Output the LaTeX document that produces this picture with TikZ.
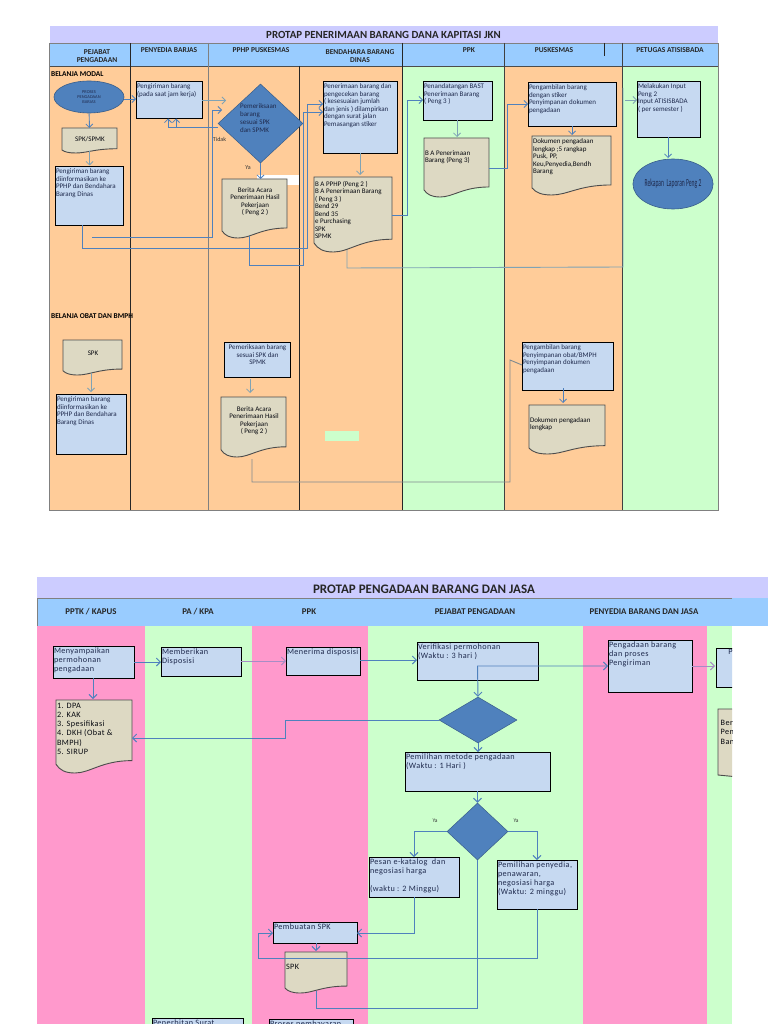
\documentclass[tikz,border=0pt]{standalone}
\usepackage{fontspec}
\usepackage{graphicx}
\setmainfont{Carlito}
\usetikzlibrary{arrows.meta,shapes.geometric}
\definecolor{orng}{HTML}{FFCC99}
\definecolor{grn}{HTML}{CCFFCC}
\definecolor{pnk}{HTML}{FF99CC}
\definecolor{hdrblue}{HTML}{99CCFF}
\definecolor{titleb}{HTML}{CCCCFF}
\definecolor{boxb}{HTML}{C6D9F1}
\definecolor{docb}{HTML}{DDD9C3}
\definecolor{dkblue}{HTML}{4F81BD}
\definecolor{dkline}{HTML}{385D8A}
\definecolor{inkc}{HTML}{1F2A4D}
\definecolor{lnk}{HTML}{4F81BD}
\definecolor{lnklt}{HTML}{7FA3B5}
\definecolor{grayl}{HTML}{808080}
\tikzset{
 flowb/.style={draw=black,line width=0.9pt,fill=boxb,text=inkc,font=\fontsize{7}{7.5}\selectfont\def\tbpad{2.5pt}},
 flowc/.style={draw=black,line width=0.9pt,fill=boxb,text=inkc,font=\fontsize{8.2}{9.3}\selectfont\addfontfeature{LetterSpace=5}\def\tbpad{0.5pt}},
 docb/.style={text=black!80!inkc,font=\fontsize{7}{7.5}\selectfont\def\tbpad{2.5pt}},
 docc/.style={text=black!80!inkc,font=\fontsize{8.2}{9.3}\selectfont\addfontfeature{LetterSpace=5}\def\tbpad{1.5pt}},
 docshape/.style={draw=black!70,line width=0.9pt,fill=docb},
 hdr/.style={font=\fontsize{7.5}{8}\bfseries\selectfont,text=black!85,align=center,inner sep=0pt},
 hdrb/.style={font=\fontsize{8.8}{10}\bfseries\selectfont,text=black!85,align=center,inner sep=0pt},
 sect/.style={font=\fontsize{7.4}{8}\bfseries\selectfont,text=black,anchor=west,inner sep=0pt},
 ttl/.style={font=\bfseries\selectfont,text=black!85,inner sep=0pt},
 small/.style={font=\fontsize{6}{7}\selectfont,text=black!80,inner sep=0pt},
 conn/.style={draw=lnk,line width=0.95pt,-{Straight Barb[length=3.5pt,width=7pt,line width=0.8pt]}},
 connlt/.style={conn,draw=lnklt},
 connp/.style={draw=lnk,line width=0.95pt,-{Straight Barb[length=4pt,width=8pt,line width=0.9pt]}},
 dia/.style={shape=diamond,draw=dkline,line width=0.5pt,fill=dkblue,inner sep=0pt},
 ell/.style={shape=ellipse,draw=dkline,line width=0.6pt,fill=dkblue,inner sep=0pt,text=inkc},
}
% #1 align, #2 style, #3 name, #4 x1, #5 y1, #6 x2, #7 y2, #8 text
\newcommand{\tbox}[8][l]{%
 \pgfmathsetmacro\bxw{#6-#4}\pgfmathsetmacro\bxh{#7-#5}%
 \pgfmathsetmacro\bxcx{(#4+#6)/2}\pgfmathsetmacro\bxcy{(#5+#7)/2}%
 \node[#2,minimum width=\bxw pt,minimum height=\bxh pt,inner sep=0pt,outer sep=0pt] (#3) at (\bxcx,\bxcy)
  {\parbox[c][\bxh pt][t]{\bxw pt}{\ifx c#1\centering\fi\vspace*{\tbpad}\hspace*{1pt}\begin{tabular}[t]{@{}#1@{}}#8\end{tabular}}};%
}
% same, with the wavy lower edge of a document
\newcommand{\dbox}[8][l]{%
 \pgfmathsetmacro\dxw{#6-#4}\pgfmathsetmacro\dxh{#7-#5}%
 \path[docshape] (#4,#5) -- (#6,#5) -- (#6,#5+.83*\dxh)
   .. controls (#4+.6*\dxw,#5+.83*\dxh) and (#4+.45*\dxw,#5+\dxh) .. (#4+.25*\dxw,#5+\dxh)
   .. controls (#4+.12*\dxw,#5+\dxh) and (#4+.05*\dxw,#5+.96*\dxh) .. (#4,#5+.88*\dxh) -- cycle;
 \tbox[#1]{#2}{#3}{#4}{#5}{#6}{#7}{#8}%
}
\begin{document}
\begin{tikzpicture}[x=1pt,y=-1pt]
\useasboundingbox (0,0) rectangle (768,1024);
\fill[white] (0,0) rectangle (768,1024);
%% ===== chart 1 backgrounds
\fill[titleb] (50,26) rectangle (718,43);
\fill[hdrblue] (49.5,43) rectangle (718,66);
\fill[orng] (49.5,66) rectangle (403,510);
\fill[grn] (403,66) rectangle (505,510);
\fill[orng] (505,66) rectangle (623,510);
\fill[grn] (623,66) rectangle (718,510);
\draw[grayl,line width=0.8pt] (49.5,43) -- (718,43);
\draw[black!70,line width=0.5pt] (49.5,66) -- (718,66);
\draw[grayl,line width=0.9pt] (49.5,43) -- (49.5,510) -- (718,510) -- (718,43);
\draw[black!85,line width=0.8pt] (130.7,43) -- (130.7,510);
\draw[grayl,line width=0.8pt] (208.3,43) -- (208.3,510);
\draw[black!85,line width=0.8pt] (299.3,66) -- (299.3,510);
\draw[black!85,line width=0.8pt] (402.7,43) -- (402.7,510);
\draw[black!75,line width=0.8pt] (504.7,43) -- (504.7,510);
\draw[black!75,line width=0.8pt] (622.7,43) -- (622.7,510);
\draw[black!85,line width=0.8pt] (604.7,43) -- (604.7,56);
\node[ttl,font=\fontsize{10.9}{12}\bfseries\selectfont] (t1) at (383.5,35) {PROTAP PENERIMAAN BARANG DANA KAPITASI JKN};
\node[hdr] (h1) at (97,56) {PEJABAT\\PENGADAAN};
\node[hdr] (h2) at (169,50) {PENYEDIA BARJAS};
\node[hdr] (h3) at (261,50) {PPHP PUSKESMAS};
\node[hdr] (h4) at (360,56) {BENDAHARA BARANG\\DINAS};
\node[hdr] (h5) at (469,50) {PPK};
\node[hdr] (h6) at (554,50) {PUSKESMAS};
\node[hdr] (h7) at (670,50) {PETUGAS ATISISBADA};
\node[sect] (s1) at (51,74) {BELANJA MODAL};
\node[sect] (s2) at (51,316) {BELANJA OBAT DAN BMPH};
\fill[white] (257,175) rectangle (299,185);
\fill[grn] (325,431) rectangle (359,441);
%% ===== chart 1 shapes, upper part
\node[ell,minimum width=70pt,minimum height=32pt,align=center,font=\fontsize{4.4}{5.4}\selectfont] (proses) at (89,97) {PROSES\\PENGADAAN\\BARJAS};
\dbox[c]{docb}{spk1}{62}{128}{117}{153}{\\[-2pt]SPK/SPMK}
\tbox{flowb}{info1}{55}{166}{123}{225}{Pengiriman barang\\diinformasikan ke\\PPHP dan Bendahara\\Barang Dinas}
\tbox{flowb}{kirim}{136}{81}{202}{118}{Pengiriman barang\\(pada saat jam kerja)}
\node[dia,minimum width=85pt,minimum height=79pt,shape aspect=1.076] (periksa) at (260.5,123.5) {};
\node[inner sep=0pt,align=left,text=inkc,font=\fontsize{7}{8}\selectfont,anchor=north west] (periksat) at (240,103.5) {Pemeriksaan\\barang\\sesuai SPK\\dan SPMK};
\node[small] (tidak) at (219.5,139) {Tidak};
\node[small] (ya1) at (248,168) {Ya};
\dbox[c]{docb}{ba1}{222}{179}{287}{238}{\\[-2pt]Berita Acara\\Penerimaan Hasil\\Pekerjaan\\( Peng 2 )}
\tbox{flowb}{terima}{323}{81}{397}{153}{Penerimaan barang dan\\pengecekan barang\\( kesesuaian jumlah\\dan jenis ) dilampirkan\\dengan surat jalan\\Pemasangan stiker}
\dbox{docb}{ba2}{314}{177}{392}{252}{\\[-6pt]B A PPHP (Peng 2 )\\B A Penerimaan Barang\\( Peng 3 )\\Bend 29\\Bend 35\\e Purchasing\\SPK\\SPMK}
\tbox{flowb}{tanda}{423}{81}{492}{120}{Penandatangan BAST\\Penerimaan Barang\\( Peng 3 )}
\dbox{docb}{ba3}{424}{138}{489}{197}{\\[2pt]B A Penerimaan\\Barang (Peng 3)}
\tbox{flowb}{ambil}{528}{82}{616}{126}{Pengambilan barang\\dengan stiker\\Penyimpanan dokumen\\pengadaan}
\dbox{docb}{dok1}{532}{136}{611}{195}{Dokumen pengadaan\\lengkap ;5 rangkap\\Pusk, PP,\\Keu,Penyedia,Bendh\\Barang}
\tbox{flowb}{input}{637}{81}{700}{137}{Melakukan Input\\Peng 2\\Input ATISISBADA\\( per semester )}
\node[ell,minimum width=78pt,minimum height=50pt] (rekap) at (673,184) {\scalebox{0.62}[1.2]{\fontsize{9}{10}\selectfont Rekapan\ \ Laporan Peng 2}};
%% ===== chart 1 shapes, lower part
\dbox[c]{docb}{spk2}{63}{340}{122}{375}{\\[0pt]SPK}
\tbox{flowb}{info2}{56}{394}{126}{454}{Pengiriman barang\\diinformasikan ke\\PPHP dan Bendahara\\Barang Dinas}
\tbox[c]{flowb}{periksa2}{224}{342}{290}{377}{Pemeriksaan barang\\sesuai SPK dan\\SPMK}
\dbox[c]{docb}{ba4}{221}{397}{286}{457}{\\[-1pt]Berita Acara\\Penerimaan Hasil\\Pekerjaan\\( Peng 2 )}
\tbox{flowb}{ambil2}{522}{342}{613}{390}{Pengambilan barang\\Penyimpanan obat/BMPH\\Penyimpanan dokumen\\pengadaan}
\dbox{docb}{dok2}{529}{405}{605}{454}{\\[2pt]Dokumen pengadaan\\lengkap}
%% ===== chart 1 connectors
\draw[conn] (proses.east |- 0,99) -- (kirim.west |- 0,99);
\draw[conn] (proses) -- (spk1);
\draw[connlt] (spk1.south) ++(0,-2) -- ([yshift=0.5pt]info1.north -| spk1.south);
\coordinate (c1) at (92,237);
\draw[conn] (c1) -- (212,237) -- (212,110) -- (222,110);
\coordinate (c2) at (226,100.5);
\draw[connlt] (kirim.east |- c2) -- (c2);
\draw[conn] (periksa.west |- 0,127) -- (168,127) -- (168,118.5);
\draw[conn] (176,127) -- (176,118.5);
\draw[conn] (periksa.south) -- (ba1.north -| periksa.south);
\draw[conn] (82,225) -- (82,248) -- (307,248) -- (307,104) -- (terima.west |- 0,104);
\draw[conn] (249,236) -- (249,265) -- (303,265) -- (303,112) -- (terima.west |- 0,112);
\draw[connlt] (terima.south -| 360,0) -- (360,175);
\draw[conn] (ba2.east |- 0,215) -- (407,215) -- (407,100) -- (tanda.west |- 0,100);
\draw[lnklt,line width=0.9pt] (347,250) -- (347,268) -- (623,267) -- (623,88);
\draw[connlt] (625,100) -- (input.west |- 0,100);
\draw[connlt] (tanda.south -| 457,0) -- (457,137);
\draw[conn] (ba3.east |- 0,168) -- (507,168) -- (507,104) -- (ambil.west |- 0,104);
\draw[conn] (ambil.south -| 572,0) -- (572,135);
\draw[conn] (input.south -| 668,0) -- (668,158);
\draw[connlt] (spk2.south -| 91,0) ++(0,-2) -- (91,392);
\draw[connlt] (250,379) -- (250,393);
\draw[grayl!70!lnklt,line width=0.9pt] (252,459) -- (252,482) -- (510,482) -- (510,360) -- (ambil2.west |- 0,365);
\draw[conn] (ambil2.south -| 563,0) ++(0,-2) -- (563,403);
%% ===== chart 2 backgrounds
\fill[titleb] (37,577) rectangle (768,598);
\fill[hdrblue] (37,598) rectangle (768,626);
\fill[pnk] (37,626) rectangle (145,1024);
\fill[grn] (145,626) rectangle (251.6,1024);
\fill[pnk] (251.6,626) rectangle (367.6,1024);
\fill[grn] (367.6,626) rectangle (583,1024);
\fill[pnk] (583,626) rectangle (706.7,1024);
\fill[grn] (706.7,626) rectangle (731.7,1024);
\draw[grayl,line width=1pt] (732,598.5) -- (37,598.5) -- (37,626);
\node[ttl,font=\fontsize{13}{15}\bfseries\selectfont] (t2) at (424,589) {PROTAP PENGADAAN BARANG DAN JASA};
\node[hdrb] (g1) at (91,612) {PPTK / KAPUS};
\node[hdrb] (g2) at (198,612) {PA / KPA};
\node[hdrb] (g3) at (309,612) {PPK};
\node[hdrb] (g4) at (475,612) {PEJABAT PENGADAAN};
\node[hdrb] (g5) at (644,612) {PENYEDIA BARANG DAN JASA};
%% ===== chart 2 shapes
\tbox{flowc}{sampai}{53}{646}{134}{678}{Menyampaikan\\permohonan\\pengadaan}
\tbox{flowc}{beri}{161}{647}{241}{676}{Memberikan\\Disposisi}
\tbox{flowc}{disp}{286}{647}{360}{675}{Menerima disposisi}
\dbox{docc}{dpa}{56}{700}{132}{773}{1. DPA\\2. KAK\\3. Spesifikasi\\4. DKH (Obat \&\\BMPH)\\5. SIRUP}
\tbox{flowc}{verif}{417}{642}{538}{680}{Verifikasi permohonan\\(Waktu : 3 hari )}
\tbox{flowc}{ada}{608}{640}{692}{692}{Pengadaan barang\\dan proses\\Pengiriman}
\node[dia,minimum width=78pt,minimum height=46pt,shape aspect=1.7] (d1) at (478,720) {};
\tbox{flowc}{metode}{405}{752}{550}{791}{Pemilihan metode pengadaan\\(Waktu : 1 Hari )}
\node[dia,minimum width=61pt,minimum height=57pt,shape aspect=1.07] (d2) at (477.5,831.5) {};
\node[small,font=\fontsize{5.5}{6}\selectfont] (ya2) at (435,821) {Ya};
\node[small,font=\fontsize{5.5}{6}\selectfont] (ya3) at (516,821) {Ya};
\tbox{flowc}{pesan}{369}{857}{459}{897}{Pesan e-katalog\ \ dan\\negosiasi harga\\\\(waktu : 2 Minggu)}
\tbox{flowc}{penyedia}{497}{860}{577}{909}{Pemilihan penyedia,\\penawaran,\\negosiasi harga\\(Waktu: 2 minggu)}
\tbox{flowc}{buat}{273}{922}{357}{943}{Pembuatan SPK}
\dbox{docc}{spk3}{285}{952}{347}{993}{\\[0pt]SPK}
\tbox{flowc}{surat}{152}{1018}{243}{1050}{Penerbitan Surat}
\tbox{flowc}{bayar}{269}{1019}{353}{1050}{Proses pembayaran}
\begin{scope}
\clip (700,626) rectangle (732,1024);
\node[draw=black,line width=0.9pt,fill=boxb,minimum width=40pt,minimum height=39pt,inner sep=0pt,outer sep=0pt] (cut1) at (736,667.5) {};
\node[flowc,draw=none,fill=none,inner sep=0pt,anchor=north west] (cut1t) at (728,649) {P};
\path[docshape] (718,709) -- (780,709) -- (780,781) -- (718,775) -- cycle;
\node[docc,inner sep=0pt,anchor=north west,align=left] (cut2) at (720.5,720) {Ber\\Pen\\Ban};
\end{scope}
%% ===== chart 2 connectors
\draw[connp] (sampai.south -| 93,0) -- (93,699);
\draw[connp] (sampai.east |- 0,662) -- (beri.west |- 0,662);
\draw[connp,draw=lnk!50!pnk] (beri.east |- 0,661) -- (disp.west |- 0,661);
\draw[connp] (disp.east |- 0,660) -- (verif.west |- 0,660);
\draw[connp,{Straight Barb[length=4pt,width=8pt,line width=0.9pt]}-{Straight Barb[length=4pt,width=8pt,line width=0.9pt]}] (d1.north) -- (477.5,666) -- (ada.west |- 0,666);
\draw[connp,draw=lnk!50!pnk] (ada.east |- 0,666) -- (715,666);
\draw[connp] (d1.west) -- (285,720) -- (285,738) -- (dpa.east |- 0,738);
\draw[connp] (d1.south) -- (metode.north -| d1.south);
\draw[connp] (metode.south -| 477.5,0) -- (d2.north);
\draw[connp] (d2.west) -- (414,831.5) -- (pesan.north -| 414,0);
\draw[connp] (d2.east) -- (537,831.5) -- (penyedia.north -| 537,0);
\draw[connp] (pesan.south -| 414,0) -- (414,933) -- (buat.east |- 0,933);
\draw[connp] (penyedia.south -| 537,0) -- (537,958) -- (258,958) -- (258,933) -- (buat.west |- 0,933);
\draw[connp] (buat.south -| 316,0) -- (316,951);
\draw[lnk,line width=0.95pt] (316,991) -- (316,1008) -- (477.5,1008) -- (d2.south);
\end{tikzpicture}
\end{document}
